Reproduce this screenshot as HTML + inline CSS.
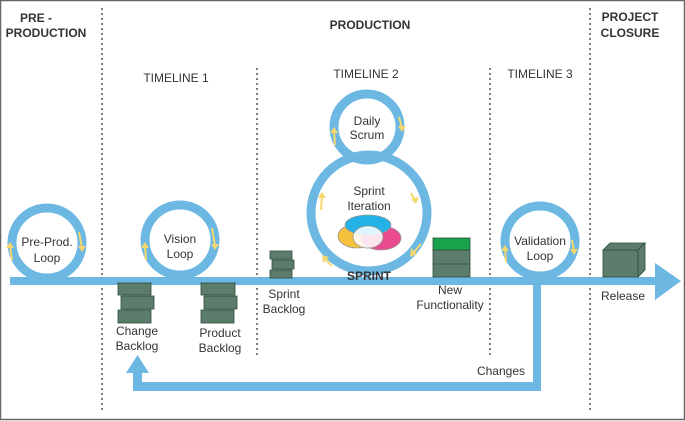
<!DOCTYPE html>
<html><head><meta charset="utf-8"><style>
html,body{margin:0;padding:0;background:#fff}
svg{display:block}
text{font-family:"Liberation Sans",sans-serif;fill:#333}
</style></head><body>
<svg width="685" height="421" viewBox="0 0 685 421" xmlns="http://www.w3.org/2000/svg">
<rect x="0.5" y="0.5" width="684" height="419" fill="#fff" stroke="#666" stroke-width="1.5"/>
<g stroke="#555" stroke-width="1.5" stroke-dasharray="2,3">
<line x1="102" y1="8" x2="102" y2="410"/>
<line x1="590" y1="8" x2="590" y2="410"/>
<line x1="257" y1="68" x2="257" y2="357"/>
<line x1="490" y1="68" x2="490" y2="357"/>
</g>
<g font-weight="bold" font-size="12" text-anchor="middle">
<text x="36" y="22">PRE -</text><text x="46" y="37">PRODUCTION</text>
<text x="370" y="29">PRODUCTION</text>
<text x="630" y="21">PROJECT</text><text x="630" y="37">CLOSURE</text>
<text x="176" y="82" font-weight="normal" font-size="12" fill="#222">TIMELINE 1</text>
<text x="366" y="78" font-weight="normal" font-size="12">TIMELINE 2</text>
<text x="540" y="78" font-weight="normal" font-size="12">TIMELINE 3</text>
</g>
<g fill="none" stroke="#6cb8e3" stroke-width="9">
<circle cx="47" cy="243" r="35"/>
<circle cx="180" cy="240" r="35"/>
<circle cx="367" cy="127" r="33"/>
<circle cx="369" cy="213" r="58"/>
<circle cx="540" cy="241" r="35"/>
</g>
<g fill="#6cb8e3">
<rect x="10" y="277" width="650" height="8"/>
<polygon points="655,263 681,281 655,300"/>
<rect x="533" y="281" width="8" height="110"/>
<rect x="133" y="382" width="408" height="9"/>
<rect x="133" y="368" width="9" height="23"/>
<polygon points="126,373 149,373 137.5,355"/>
</g>
<g stroke="#f5d76e" stroke-width="2" fill="#f5d76e">
<line x1="79" y1="232" x2="82" y2="248"/><polygon points="78,246 86,246 82,252" stroke="none"/>
<line x1="12" y1="260" x2="10" y2="246"/><polygon points="6,248 14,248 10,242" stroke="none"/>
<line x1="212" y1="228" x2="215" y2="246"/><polygon points="211,244 219,244 215,250" stroke="none"/>
<line x1="146" y1="260" x2="145" y2="246"/><polygon points="141,248 149,248 145,242" stroke="none"/>
<line x1="399" y1="117" x2="402" y2="128"/><polygon points="398,126 406,126 402,132" stroke="none"/>
<line x1="335" y1="145" x2="334" y2="131"/><polygon points="330,133 338,133 334,127" stroke="none"/>
<line x1="411" y1="193" x2="415" y2="200"/><polygon points="411,199 419,197 416,204" stroke="none"/>
<line x1="421" y1="244" x2="414" y2="252"/><polygon points="411,248 417,254 410,257" stroke="none"/>
<line x1="321" y1="210" x2="322" y2="196"/><polygon points="318,198 326,198 322,192" stroke="none"/>
<line x1="332" y1="266" x2="325" y2="259"/><polygon points="323,263 329,257 322,255" stroke="none"/>
<line x1="572" y1="240" x2="574" y2="251"/><polygon points="570,249 578,249 574,255" stroke="none"/>
<line x1="506" y1="262" x2="505" y2="249"/><polygon points="501,251 509,251 505,245" stroke="none"/>
</g>
<!-- venn -->
<ellipse cx="357" cy="236" rx="19" ry="12" fill="#f6c13c" stroke="#999" stroke-width="0.8"/>
<ellipse cx="381" cy="238" rx="20" ry="12" fill="#ea4a8f" stroke="#999" stroke-width="0.8"/>
<ellipse cx="368" cy="225" rx="23" ry="10" fill="#24b2e6" stroke="#999" stroke-width="0.8"/>
<ellipse cx="368" cy="237" rx="15" ry="11" fill="#fff" fill-opacity="0.85" stroke="#999" stroke-width="0.8"/>
<g fill="#5c7d6b" stroke="#2f4a3a" stroke-width="0.8">
<rect x="118" y="283" width="33" height="12"/><rect x="121" y="296" width="33" height="13"/><rect x="118" y="310" width="33" height="13"/>
<rect x="201" y="283" width="34" height="12"/><rect x="204" y="296" width="33" height="13"/><rect x="201" y="310" width="33" height="13"/>
<rect x="270" y="251" width="22" height="8"/><rect x="272" y="260" width="22" height="9"/><rect x="270" y="270" width="22" height="8"/>
<rect x="433" y="250" width="37" height="27"/><line x1="433" y1="264" x2="470" y2="264"/>
<rect x="603" y="250" width="35" height="27"/><polygon points="603,250 610,243 645,243 638,250"/><polygon points="638,250 645,243 645,270 638,277"/>
</g>
<rect x="433" y="238" width="37" height="12" fill="#1aa34a" stroke="#2f4a3a" stroke-width="0.8"/>
<g font-size="12" text-anchor="middle">
<text x="47" y="246">Pre-Prod.</text><text x="47" y="262">Loop</text>
<text x="180" y="243">Vision</text><text x="180" y="258">Loop</text>
<text x="367" y="125">Daily</text><text x="367" y="139">Scrum</text>
<text x="369" y="195">Sprint</text><text x="369" y="210">Iteration</text>
<text x="540" y="245">Validation</text><text x="540" y="260">Loop</text>
<text x="369" y="280" font-weight="bold" fill="#222">SPRINT</text>
<text x="137" y="335">Change</text><text x="137" y="350">Backlog</text>
<text x="220" y="337">Product</text><text x="220" y="352">Backlog</text>
<text x="284" y="298">Sprint</text><text x="284" y="313">Backlog</text>
<text x="450" y="294">New</text><text x="450" y="309">Functionality</text>
<text x="623" y="300">Release</text>
<text x="501" y="375">Changes</text>
</g>
</svg>
</body></html>
